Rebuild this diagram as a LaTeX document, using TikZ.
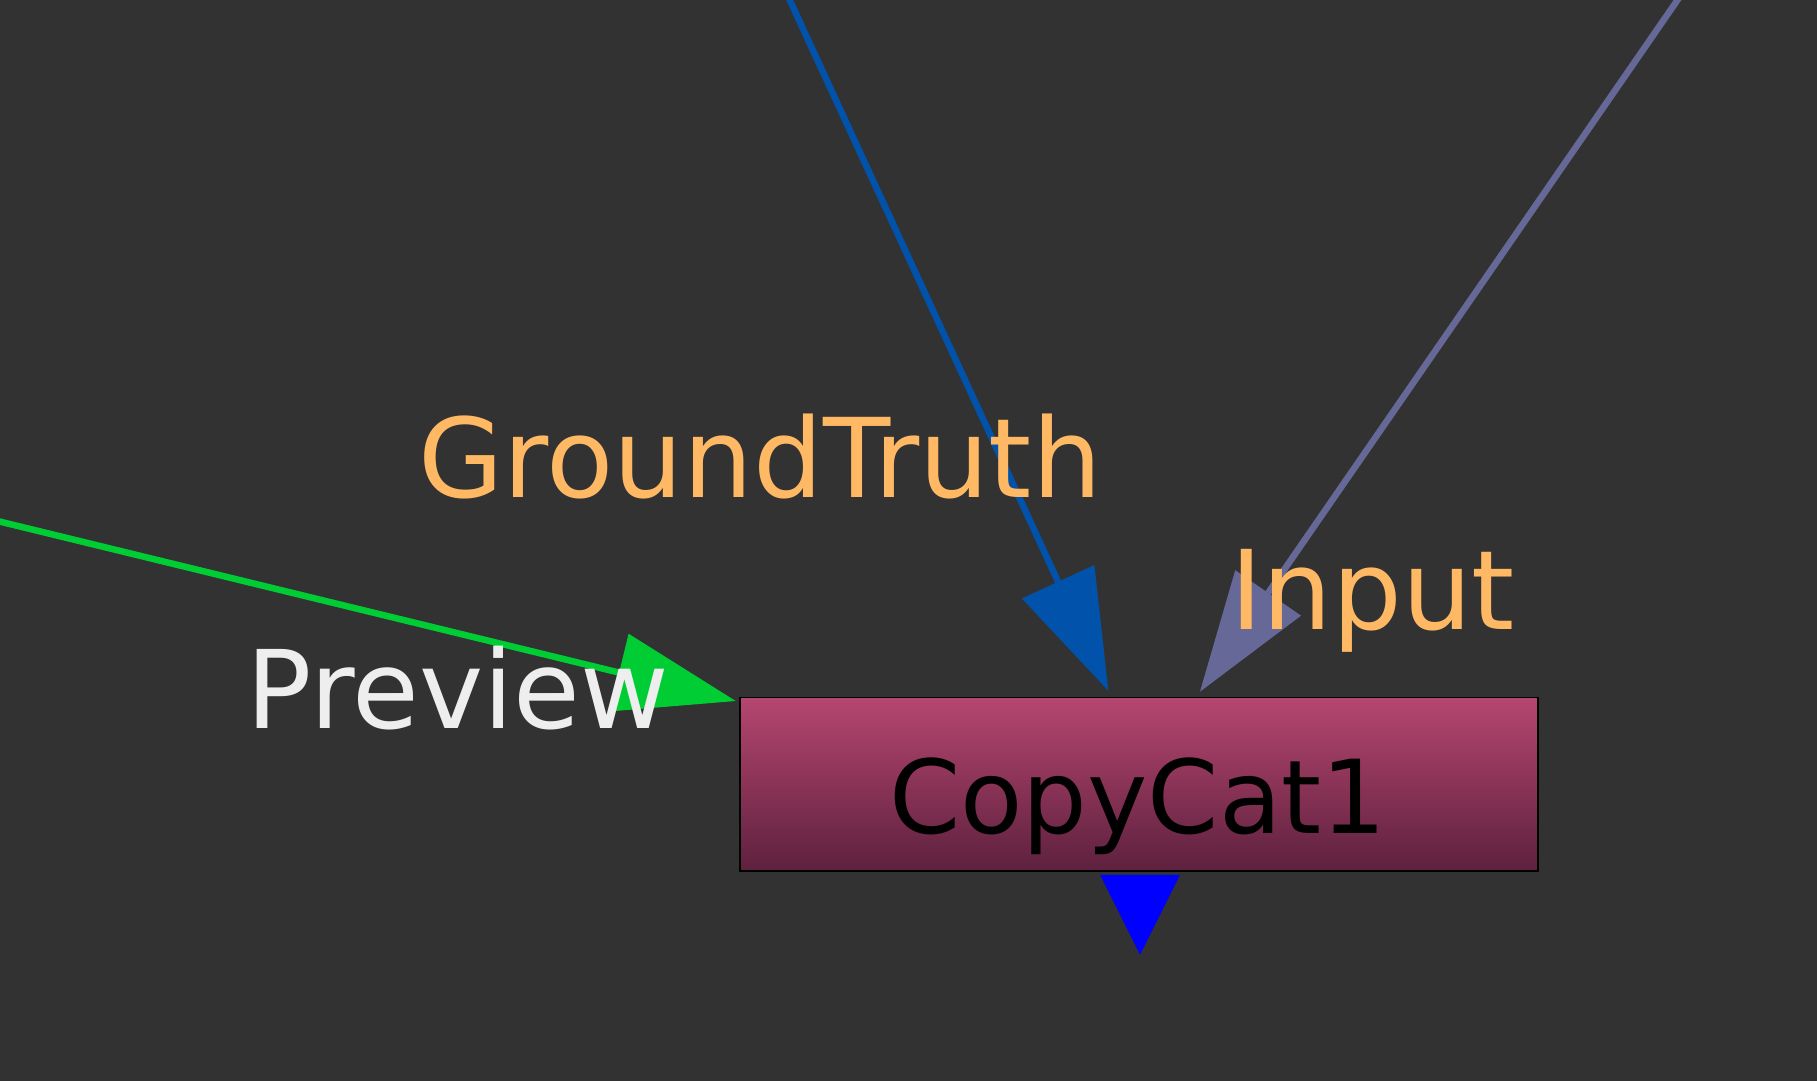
\documentclass[tikz,border=0pt]{standalone}
\usepackage{fontspec}
\setmainfont{DejaVu Sans}
\usetikzlibrary{arrows.meta,calc}
\definecolor{bgcol}{HTML}{323232}
\definecolor{cctop}{HTML}{B5466F}
\definecolor{ccbot}{HTML}{5E213E}
\definecolor{gtblue}{HTML}{0052AA}
\definecolor{inpurple}{HTML}{666898}
\definecolor{pvgreen}{HTML}{00CC33}
\definecolor{lblorange}{HTML}{FFB964}
\definecolor{lblwhite}{HTML}{EEEEEE}
\definecolor{outblue}{HTML}{0000FF}
\tikzset{
  nodebox/.style={draw=black, line width=1.5pt, rectangle, inner sep=0pt,
    shading=axis, top color=cctop, bottom color=ccbot,
    minimum width=798pt, minimum height=173.3pt},
  edgelabel/.style={inner sep=0pt, anchor=base west},
  tipshape/.style={-{Triangle[length=120pt,width=80pt,line width=0pt]}},
  gtedge/.style={tipshape, draw=gtblue, line width=6.5pt},
  inedge/.style={tipshape, draw=inpurple, line width=6.5pt},
  pvedge/.style={tipshape, draw=pvgreen, line width=6.5pt},
}
\begin{document}
\begin{tikzpicture}[x=1pt,y=-1pt]
\useasboundingbox (0,0) rectangle (1817,1081);
\fill[bgcol] (0,0) rectangle (1817,1081);
% main node
\node[nodebox, anchor=north west] (cc) at (739,696.7) {};
\node[inner sep=0pt, anchor=base west, font=\fontsize{102}{120}\selectfont, text=black] (cclabel) at (889,833.3) {CopyCat1};
% free ends of the connectors
\coordinate (gtsrc) at (785.1,-10);
\coordinate (insrc) at (1684.4,-10);
\coordinate (pvsrc) at (-10,519.2);
% connectors
\draw[gtedge, shorten >=6.6pt] (gtsrc) -- ($(cc.north west)+(372.1,0)$);
\draw[inedge, shorten >=6.1pt] (insrc) -- ($(cc.north west)+(457.5,0)$);
\draw[pvedge, shorten >=3.4pt] (pvsrc) -- ($(cc.north west)+(0,5.1)$);
% output triangle
\fill[outblue] ($(cc.south)+(-38.7,3.3)$) -- ++(80,0) -- ++(-40,80) -- cycle;
% labels
\node[edgelabel, text=lblorange, font=\fontsize{110}{130}\selectfont] (gtlabel) at (418,497.3) {GroundTruth};
\node[edgelabel, text=lblorange, font=\fontsize{110}{130}\selectfont] (inlabel) at (1230,629.3) {Input};
\node[edgelabel, text=lblwhite, font=\fontsize{108.5}{130}\selectfont] (pvlabel) at (246.7,728.3) {Preview};
\end{tikzpicture}
\end{document}
